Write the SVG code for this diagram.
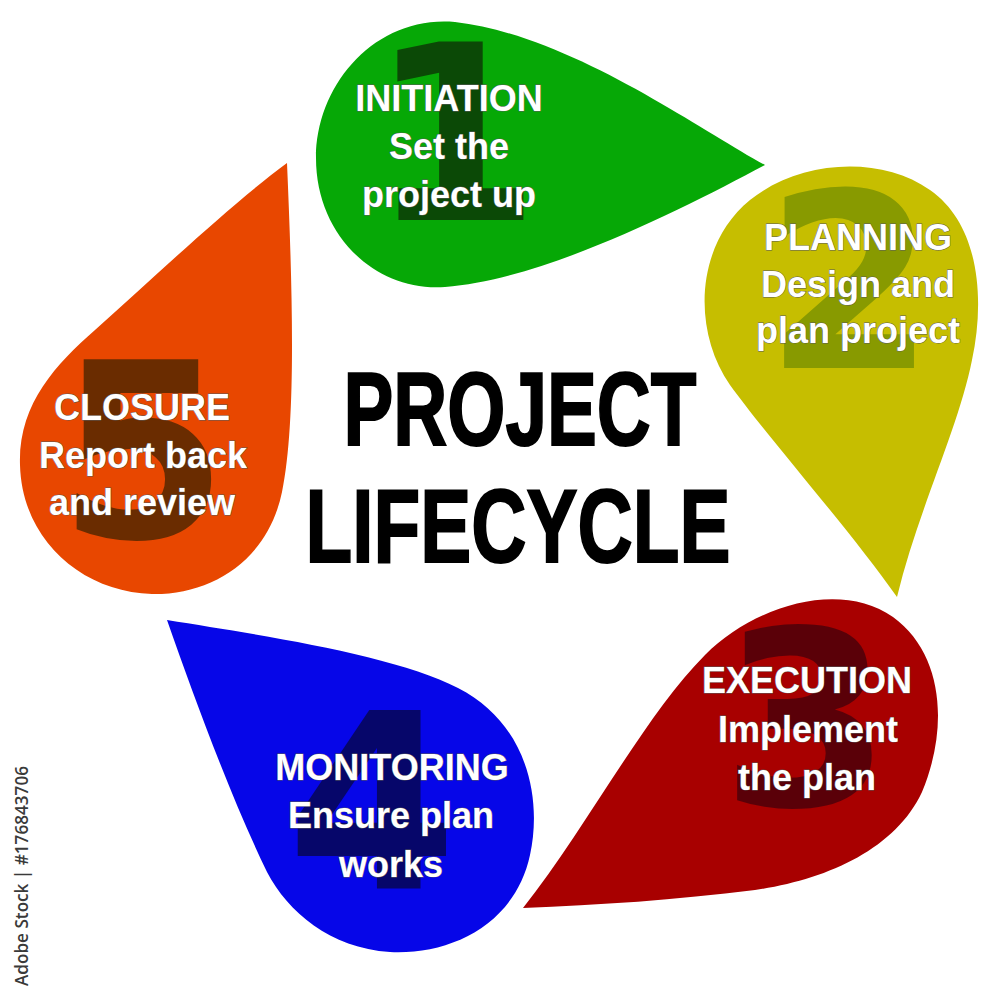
<svg xmlns="http://www.w3.org/2000/svg" width="1000" height="1000" viewBox="0 0 1000 1000">
<style>
.num{font-family:"DejaVu Sans",sans-serif;font-weight:bold;font-size:245px;text-anchor:middle}
.lbl{font-family:"Liberation Sans",Arial,sans-serif;font-weight:bold;font-size:36px;text-anchor:middle;fill:#ffffff;stroke:#5a5a5a;stroke-width:0.9px;paint-order:stroke}
.title{font-family:"Liberation Sans",Arial,sans-serif;font-weight:bold;font-size:104px;text-anchor:middle;fill:#000000;stroke:#000000;stroke-width:2px}
.wm{font-family:"Open Sans",sans-serif;font-weight:600;font-size:17.5px;fill:#3a3a3a}
</style>
<rect x="0" y="0" width="1000" height="1000" fill="#ffffff"/>
<g id="connectors"></g>
<g id="node-initiation">
<path d="M765,165 C700,130 570,35 455,22 C375,15 316,85 316,158 C316,235 375,292 445,287 C545,280 690,205 765,165 Z" fill="#06A806"/>
<text class="num" x="455" y="220" fill="#0B4906">1</text>
<text class="lbl" x="449" y="111">INITIATION</text>
<text class="lbl" x="449" y="159">Set the</text>
<text class="lbl" x="449" y="207">project up</text>
</g>
<g id="node-planning">
<path d="M897,597 C850,530 770,440 730,385 C692,330 695,245 750,200 C800,160 880,155 930,190 C980,225 985,300 972,360 C958,430 918,510 897,597 Z" fill="#C6BE00"/>
<text class="num" x="850" y="368" fill="#889A00">2</text>
<text class="lbl" x="858" y="250">PLANNING</text>
<text class="lbl" x="858" y="297">Design and</text>
<text class="lbl" x="858" y="343">plan project</text>
</g>
<g id="node-execution">
<path d="M523,908 C585,830 645,715 705,655 C755,605 840,580 893,617 C945,655 948,730 922,792 C895,850 825,880 755,890 C675,900 600,905 523,908 Z" fill="#A80000"/>
<text class="num" x="806" y="806" fill="#5A0008">3</text>
<text class="lbl" x="807" y="693">EXECUTION</text>
<text class="lbl" x="808" y="742">Implement</text>
<text class="lbl" x="807" y="790">the plan</text>
</g>
<g id="node-monitoring">
<path d="M167,620 C260,635 395,655 458,688 C525,722 543,795 530,855 C515,925 450,955 390,952 C330,948 288,912 267,872 C232,800 195,700 167,620 Z" fill="#0606E8"/>
<text class="num" x="372" y="888" fill="#06066A">4</text>
<text class="lbl" x="392" y="780">MONITORING</text>
<text class="lbl" x="391" y="828">Ensure plan</text>
<text class="lbl" x="391" y="877">works</text>
</g>
<g id="node-closure">
<path d="M287,163 C292,280 297,420 282,492 C268,560 212,595 152,594 C82,592 22,540 20,465 C18,405 55,365 95,330 C160,272 230,205 287,163 Z" fill="#E84700"/>
<text class="num" x="143" y="538" fill="#6A2C00">5</text>
<text class="lbl" x="142" y="420">CLOSURE</text>
<text class="lbl" x="143" y="468">Report back</text>
<text class="lbl" x="142" y="515">and review</text>
</g>
<g id="title">
<text class="title" x="520" y="445" textLength="353" lengthAdjust="spacingAndGlyphs">PROJECT</text>
<text class="title" x="518" y="562" textLength="425" lengthAdjust="spacingAndGlyphs">LIFECYCLE</text>
</g>
<text class="wm" transform="translate(28,986) rotate(-90)" textLength="220" lengthAdjust="spacingAndGlyphs">Adobe Stock | #176843706</text>
</svg>
